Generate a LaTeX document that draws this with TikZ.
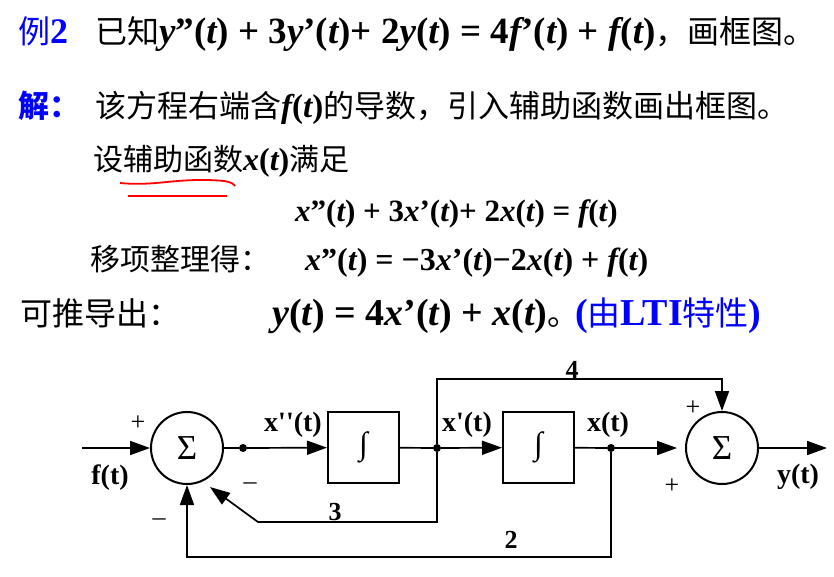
\documentclass[tikz,border=0pt]{standalone}
\usepackage{fontspec}
\usetikzlibrary{arrows.meta,positioning}
\newfontfamily\cjk{Noto Sans CJK SC}
\newfontfamily\tms{Liberation Serif}
\newcommand\mv[1]{{\itshape #1}}
\newcommand\tpar{(\mv{t})}
\newcommand\fs[1]{\fontsize{#1}{#1}\selectfont}
\newcommand\lt[2]{{\tms\bfseries\fs{#1}#2}}

\begin{document}
\begin{tikzpicture}[x=1pt, y=-1pt,
		txt/.style={anchor=base west, inner sep=0pt, font=\cjk\fs{30}},
		big/.style={txt, font=\cjk\fs{32}},
		sumnode/.style={circle, draw, line width=2pt, minimum size=72pt, inner sep=0pt, font=\tms\fs{35}},
		intbox/.style={draw, line width=2pt, minimum width=71pt, minimum height=71pt, inner sep=0pt, font=\tms\fs{32}},
		sig/.style={line width=1.7pt},
		arr/.style={sig, -{Triangle[length=20pt,width=14pt]}},
		dot/.style={circle, fill, inner sep=0pt, minimum size=8pt},
		lab/.style={font=\tms\bfseries\fs{28}, inner sep=0pt},
		num/.style={font=\tms\bfseries\fs{26}, inner sep=0pt},
		sgn/.style={font=\tms\fs{26}, inner sep=0pt}]
	\useasboundingbox (0,0) rectangle (834,576);

	% text lines
	\node[txt, blue, font=\cjk\fs{32}] (ex) at (18,43) {例\lt{36}{2}};
	\node[txt, font=\cjk\fs{32}] (q) at (95,43) {已知\lt{37}{\mv{y}”\tpar{} + 3\mv{y}’\tpar+ 2\mv{y}\tpar{} = 4\mv{f}’\tpar{} + \mv{f}\tpar}，画框图。};
	\node[txt, blue, font=\cjk\bfseries\fs{31}] (sol) at (18,117) {解：};
	\node[txt, font=\cjk\fs{31}] (s1) at (95,117) {该方程右端含\lt{33}{\mv{f}\tpar}的导数，引入辅助函数画出框图。};
	\node[txt] (s2) at (93,170) {设辅助函数\lt{32}{\mv{x}\tpar}满足};
	\node[txt] (s3) at (295,221) {\lt{31}{\mv{x}”\tpar{} + 3\mv{x}’\tpar+ 2\mv{x}\tpar{} = \mv{f}\tpar}};
	\node[txt] (s4) at (90,270) {移项整理得：};
	\node[txt] (s5) at (305,270) {\lt{32}{\mv{x}”\tpar{} = −3\mv{x}’\tpar−2\mv{x}\tpar{} + \mv{f}\tpar}};
	\node[big] (s6) at (20,325) {可推导出：};
	\node[big] (s7) at (272,325) {\lt{38}{\mv{y}\tpar{} = 4\mv{x}’\tpar{} + \mv{x}\tpar}。};
	\node[big, blue, font=\cjk\fs{33}] (s8) at (575,325) {\lt{38}{(}由\lt{38}{LTI}特性\lt{38}{)}};

	% red marks
	\draw[red, line width=1.8pt] (120,183) .. controls (150,186) and (170,180) .. (200,180) .. controls (222,180) and (232,181) .. (235,186);
	\draw[red, line width=1.8pt] (128,196) -- (227,196);

	% blocks
	\node[sumnode] (sa) at (187,448) {Σ};
	\node[intbox] (ia) at (363.5,447.5) {∫};
	\node[intbox] (ib) at (538.5,447.5) {∫};
	\node[sumnode] (sb) at (722,448) {Σ};

	\coordinate (in) at (82,448);
	\node[dot] (da) at (243,448) {};
	\node[dot] (db) at (437,448) {};
	\node[dot] (dc) at (611,448) {};
	\coordinate (out) at (827,448);
	\coordinate (top) at (437,379);
	\coordinate (topr) at (722,379);
	\coordinate (b3) at (437,522);
	\coordinate (b3l) at (258,522);
	\coordinate (t3) at (210,487);
	\coordinate (b2l) at (187,557);
	\coordinate (b2r) at (611,557);

	% forward path
	\draw[arr] (in) -- (sa);
	\draw[sig] (sa) -- (da);
	\draw[arr] (da) -- (ia);
	\draw[sig] (ia) -- (db);
	\draw[arr] (db) -- (ib);
	\draw[sig] (ib) -- (dc);
	\draw[arr, shorten >=8pt] (dc) -- (sb);
	\draw[arr] (sb) -- (out);

	% feedforward and feedback
	\draw[arr] (db) -- (top) -- (topr) -- (sb);
	\draw[arr] (db) -- (b3) -- (b3l) -- (t3);
	\draw[arr] (dc) -- (b2r) -- (b2l) -- (sa);

	% labels
	\node[lab] (lxa) at (293,425) {x\textquotesingle\textquotesingle(t)};
	\node[lab] (lxb) at (467,425) {x\textquotesingle(t)};
	\node[lab] (lxc) at (608,425) {x(t)};
	\node[lab] (lf) at (110,478) {f(t)};
	\node[lab] (ly) at (798,477) {y(t)};
	\node[num] (l4) at (572,370) {4};
	\node[num] (l3) at (335,512) {3};
	\node[num] (l2) at (511,540) {2};
	\node[sgn] (p1) at (138,423) {+};
	\node[sgn] (m1) at (250,486) {–};
	\node[sgn] (m2) at (159,522) {–};
	\node[sgn] (p2) at (693,408) {+};
	\node[sgn] (p3) at (672,486) {+};
\end{tikzpicture}
\end{document}
